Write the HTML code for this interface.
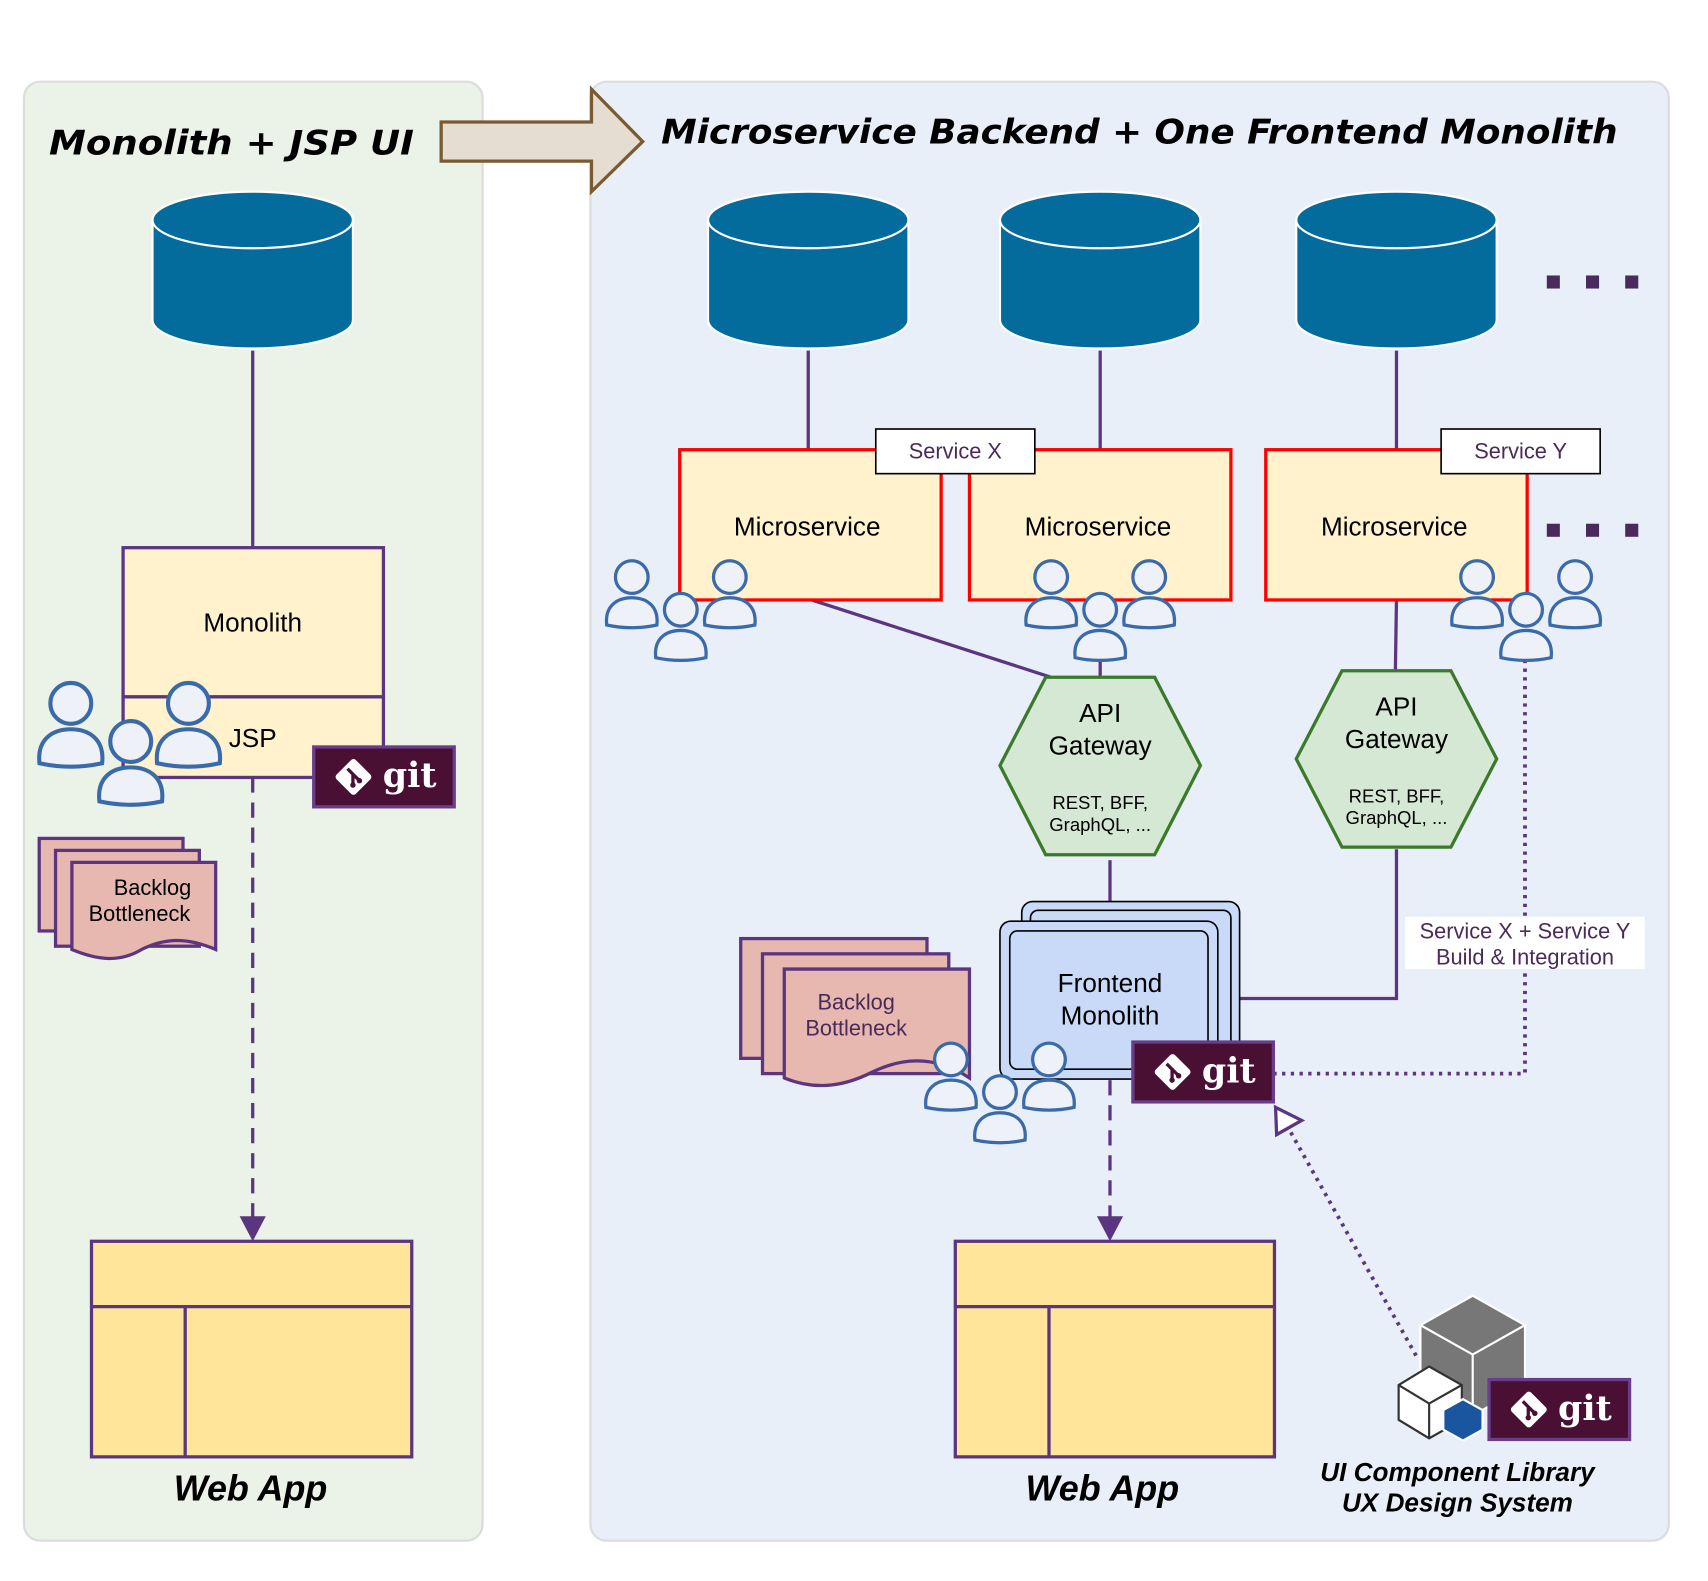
<!DOCTYPE html>
<html><head><meta charset="utf-8"><style>html,body{margin:0;padding:0;background:#fff}svg{display:block}</style></head><body>
<svg width="1708" height="1581" viewBox="0 0 1568 1452" preserveAspectRatio="none" xmlns="http://www.w3.org/2000/svg" font-family="Liberation Sans, Arial, sans-serif">
<defs>
<g id="u"><path d="M-23,44 C-25,26 -13,19 0,19 C13,19 25,26 23,44 Q0,49 -23,44Z" fill="#eef2f8" stroke="#3b6aa8" stroke-width="3"/><circle cx="0" cy="0" r="15" fill="#eef2f8" stroke="#3b6aa8" stroke-width="3"/></g>
<g id="git"><rect x="0" y="0" width="129" height="55" fill="#4a1034" stroke="#6a3d8a" stroke-width="3"/><rect x="24" y="15" width="25" height="25" rx="3" fill="#fff" transform="rotate(45 36.5 27.5)"/><path d="M31,20 L42,31 M36,25 L36,35" stroke="#4a1034" stroke-width="3" fill="none"/><circle cx="36" cy="35" r="2.5" fill="#4a1034"/><circle cx="42" cy="31" r="2.5" fill="#4a1034"/><text x="88" y="37" font-family="DejaVu Serif, Liberation Serif, serif" font-weight="bold" font-size="32" fill="#fff" text-anchor="middle">git</text></g>
<g id="db"><path d="M-92,26 L-92,118 A92,26 0 0 0 92,118 L92,26" fill="#036c9c" stroke="#fff" stroke-width="2"/><ellipse cx="0" cy="26" rx="92" ry="26" fill="#036c9c" stroke="#fff" stroke-width="2"/></g>
</defs>
<rect x="22" y="75" width="421" height="1340" rx="15" fill="#ebf3e8" stroke="#dcdcdc" stroke-width="2"/>
<rect x="542" y="75" width="990" height="1340" rx="15" fill="#e8eff9" stroke="#dcdcdc" stroke-width="2"/>
<text x="45" y="142" font-family="DejaVu Sans, Verdana, sans-serif" font-weight="bold" font-style="italic" font-size="31" textLength="335" lengthAdjust="spacingAndGlyphs">Monolith + JSP UI</text>
<text x="607" y="132" font-family="DejaVu Sans, Verdana, sans-serif" font-weight="bold" font-style="italic" font-size="31" textLength="878" lengthAdjust="spacingAndGlyphs">Microservice Backend + One Frontend Monolith</text>
<path d="M405,112 L543,112 L543,82 L590,130 L543,176 L543,148 L405,148Z" fill="#e6ddd2" stroke="#7a5a30" stroke-width="3"/>
<use href="#db" x="232" y="176"/><use href="#db" x="742" y="176"/><use href="#db" x="1010" y="176"/><use href="#db" x="1282" y="176"/>
<g fill="#4a2a5a"><rect x="1420" y="253" width="12" height="12"/><rect x="1456" y="253" width="12" height="12"/><rect x="1492" y="253" width="12" height="12"/><rect x="1420" y="481" width="12" height="12"/><rect x="1456" y="481" width="12" height="12"/><rect x="1492" y="481" width="12" height="12"/></g>
<g stroke="#5c3580" stroke-width="3" fill="none">
<path d="M232,322 V503"/><path d="M742,322 V413"/><path d="M1010,322 V413"/><path d="M1282,322 V413"/>
<path d="M745,551 L965,622"/><path d="M1010,590 V622"/><path d="M1282,551 L1281,616"/>
<path d="M1019,790 V845"/><path d="M1282,780 V917 H1122"/>
<path d="M232,714 V1122" stroke-dasharray="14,9"/><path d="M1019,992 V1122" stroke-dasharray="14,9"/>
<path d="M1169,986 H1400 V605" stroke-dasharray="3,5" stroke-width="3.5"/>
<path d="M1300,1245 L1185,1040" stroke-dasharray="3,5" stroke-width="3.5"/>
</g>
<path d="M220,1117 L244,1117 L232,1140Z" fill="#5c3580"/><path d="M1007,1117 L1031,1117 L1019,1140Z" fill="#5c3580"/>
<path d="M1171,1017 L1195,1029 L1172,1042Z" fill="#fff" stroke="#5c3580" stroke-width="3"/>
<rect x="113" y="503" width="239" height="137" fill="#fff2cc" stroke="#5c3580" stroke-width="3"/>
<rect x="113" y="640" width="239" height="74" fill="#fff2cc" stroke="#5c3580" stroke-width="3"/>
<text x="232" y="580" font-size="24" text-anchor="middle">Monolith</text>
<text x="232" y="686" font-size="24" text-anchor="middle">JSP</text>
<use href="#git" x="288" y="686"/>
<g transform="translate(65,646) scale(1.25)"><use href="#u"/></g>
<g transform="translate(173,646) scale(1.25)"><use href="#u"/></g>
<g transform="translate(120,681) scale(1.25)"><use href="#u"/></g>
<g fill="#e6b8af" stroke="#5c3580" stroke-width="3">
<rect x="36" y="770" width="132" height="85"/><rect x="51" y="781" width="132" height="88"/>
<path d="M66,792 H198 V872 C170,860 150,862 130,872 C110,884 90,882 66,872Z"/>
</g>
<text x="140" y="822" font-size="20" text-anchor="middle">Backlog</text><text x="128" y="846" font-size="20" text-anchor="middle">Bottleneck</text>
<g fill="#ffe599" stroke="#5c3580" stroke-width="3">
<rect x="84" y="1140" width="294" height="198"/><path d="M84,1200 H378 M170,1200 V1338" fill="none"/>
<rect x="877" y="1140" width="293" height="198"/><path d="M877,1200 H1170 M963,1200 V1338" fill="none"/>
</g>
<text x="230" y="1378" font-size="33" font-weight="bold" font-style="italic" text-anchor="middle">Web App</text>
<text x="1012" y="1378" font-size="33" font-weight="bold" font-style="italic" text-anchor="middle">Web App</text>
<g fill="#fff2cc" stroke="#ff0000" stroke-width="3">
<rect x="624" y="413" width="240" height="138"/><rect x="890" y="413" width="240" height="138"/><rect x="1162" y="413" width="240" height="138"/>
</g>
<text x="741" y="492" font-size="24" text-anchor="middle">Microservice</text>
<text x="1008" y="492" font-size="24" text-anchor="middle">Microservice</text>
<text x="1280" y="492" font-size="24" text-anchor="middle">Microservice</text>
<rect x="804" y="394" width="146" height="41" fill="#fff" stroke="#000" stroke-width="1.5"/>
<rect x="1323" y="394" width="146" height="41" fill="#fff" stroke="#000" stroke-width="1.5"/>
<text x="877" y="421" font-size="20" fill="#4a2a5a" text-anchor="middle">Service X</text>
<text x="1396" y="421" font-size="20" fill="#4a2a5a" text-anchor="middle">Service Y</text>
<use href="#u" x="580" y="530"/><use href="#u" x="670" y="530"/><use href="#u" x="625" y="560"/>
<use href="#u" x="965" y="530"/><use href="#u" x="1055" y="530"/><use href="#u" x="1010" y="560"/>
<use href="#u" x="1356" y="530"/><use href="#u" x="1446" y="530"/><use href="#u" x="1401" y="560"/>
<g fill="#d5e8d4" stroke="#3a7a2a" stroke-width="3">
<path d="M918,703 L960,622 L1060,622 L1102,703 L1060,785 L960,785Z"/>
<path d="M1190,697 L1232,616 L1332,616 L1374,697 L1332,778 L1232,778Z"/>
</g>
<g text-anchor="middle"><text x="1010" y="663" font-size="24">API</text><text x="1010" y="693" font-size="24">Gateway</text>
<text x="1010" y="743" font-size="17">REST, BFF,</text><text x="1010" y="763" font-size="17">GraphQL, ...</text>
<text x="1282" y="657" font-size="24">API</text><text x="1282" y="687" font-size="24">Gateway</text>
<text x="1282" y="737" font-size="17">REST, BFF,</text><text x="1282" y="757" font-size="17">GraphQL, ...</text></g>
<g fill="#c9daf8" stroke="#000" stroke-width="1.5">
<rect x="938" y="828" width="200" height="150" rx="10"/><rect x="946" y="836" width="184" height="134" rx="7"/>
<rect x="918" y="846" width="200" height="145" rx="10"/><rect x="927" y="855" width="182" height="127" rx="7"/>
</g>
<text x="1019" y="911" font-size="24" text-anchor="middle">Frontend</text><text x="1019" y="941" font-size="24" text-anchor="middle">Monolith</text>
<g fill="#e6b8af" stroke="#5c3580" stroke-width="3">
<rect x="680" y="862" width="171" height="110"/><rect x="700" y="876" width="171" height="110"/>
<path d="M720,890 H890 V990 C860,970 830,970 800,985 C770,1000 745,1000 720,990Z"/>
</g>
<text x="786" y="927" font-size="20" fill="#4a2a5a" text-anchor="middle">Backlog</text><text x="786" y="951" font-size="20" fill="#4a2a5a" text-anchor="middle">Bottleneck</text>
<use href="#u" x="873" y="973"/><use href="#u" x="963" y="973"/><use href="#u" x="918" y="1003"/>
<use href="#git" x="1040" y="957"/>
<rect x="1290" y="842" width="220" height="48" fill="#fff"/>
<text x="1400" y="862" font-size="20" fill="#4a2a5a" text-anchor="middle">Service X + Service Y</text>
<text x="1400" y="886" font-size="20" fill="#4a2a5a" text-anchor="middle">Build &amp; Integration</text>
<g stroke="#fff" stroke-width="2">
<path d="M1352,1190 L1400,1217 L1400,1273 L1352,1300 L1304,1273 L1304,1217Z" fill="#777"/>
<path d="M1304,1217 L1352,1244 L1400,1217 M1352,1244 V1300" fill="none"/>
</g>
<g stroke="#333" stroke-width="2"><path d="M1312,1255 L1342,1272 L1342,1304 L1312,1321 L1284,1304 L1284,1272Z" fill="#fff"/><path d="M1284,1272 L1312,1289 L1342,1272 M1312,1289 V1321" fill="none"/></g>
<path d="M1343,1285 L1361,1295 L1361,1313 L1343,1323 L1325,1313 L1325,1295Z" fill="#1a56a0" stroke="#fff" stroke-width="2"/>
<use href="#git" x="1367" y="1267"/>
<text x="1338" y="1360" font-size="24" font-weight="bold" font-style="italic" text-anchor="middle">UI Component Library</text>
<text x="1338" y="1388" font-size="24" font-weight="bold" font-style="italic" text-anchor="middle">UX Design System</text>
</svg>
</body></html>
